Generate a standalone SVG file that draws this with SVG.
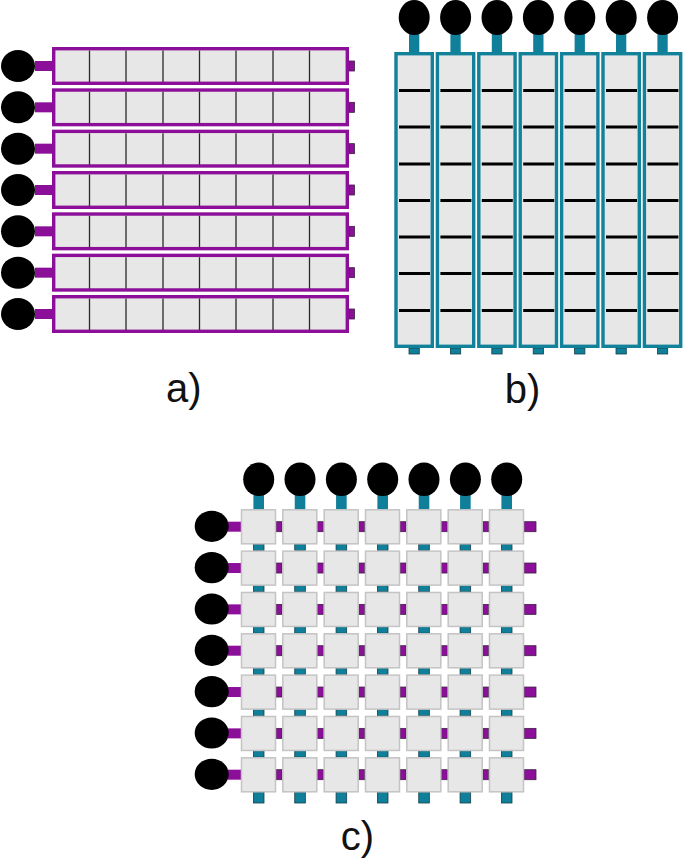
<svg xmlns="http://www.w3.org/2000/svg" xmlns:xlink="http://www.w3.org/1999/xlink" width="685" height="861" viewBox="0 0 685 861">
<style>
.e{fill:#000}
.pf{fill:#e7e7e7;stroke:#8c0f9a;stroke-width:3.4}
.tf{fill:#e7e7e7;stroke:#12829b;stroke-width:3.4}
.s{fill:#e7e7e7;stroke:#c4c4c4;stroke-width:1.5}
.p{fill:#8c0f9a}
.t{fill:#0f7f9a}
.pb{fill:#8c0f9a;stroke:#3a2440;stroke-width:.8}
.tb{fill:#0f7f9a;stroke:#14404c;stroke-width:.8}
.v{stroke:#2a2a2a;stroke-width:1.3;fill:none}
.h{stroke:#000;stroke-width:3;fill:none}
text{font-family:"Liberation Sans",Arial,sans-serif;font-size:40px;fill:#111}
</style>
<defs>
<g id="rowa">
<rect class="pf" x="53.7" y="48.7" width="293.6" height="34.6"/>
<path class="v" d="M89.5 50.5V82M126 50.5V82M163 50.5V82M199.5 50.5V82M236 50.5V82M273 50.5V82M309.5 50.5V82"/>
</g>
<g id="cola">
<rect class="tf" x="396" y="53.7" width="36.3" height="292.6"/>
<path class="h" d="M399 90.500H430M399 127H430M399 164H430M399 200.500H430M399 237H430M399 273.500H430M399 310.500H430"/>
</g>
<g id="hc">
<rect class="p" x="35" y="61" width="18" height="10"/>
<rect class="pb" x="349" y="61" width="5.500" height="10"/>
</g>
<g id="vc">
<rect class="t" x="409" y="34" width="10.3" height="18"/>
<rect class="tb" x="409" y="348" width="10.3" height="6"/>
</g>
<g id="hcc">
<rect class="p" x="228" y="521.700" width="13" height="10"/>
<rect class="pb" x="276" y="521.700" width="6" height="10"/>
<rect class="pb" x="317.300" y="521.700" width="6" height="10"/>
<rect class="pb" x="358.700" y="521.700" width="6" height="10"/>
<rect class="pb" x="400" y="521.700" width="6" height="10"/>
<rect class="pb" x="441.300" y="521.700" width="6" height="10"/>
<rect class="pb" x="482.700" y="521.700" width="6" height="10"/>
<rect class="pb" x="524" y="521.700" width="12" height="10"/>
</g>
<g id="vcc">
<rect class="t" x="253.400" y="495" width="10.6" height="14.500"/>
<rect class="tb" x="253.400" y="544" width="10.6" height="6.500"/>
<rect class="tb" x="253.400" y="585.300" width="10.6" height="6.500"/>
<rect class="tb" x="253.400" y="626.700" width="10.6" height="6.500"/>
<rect class="tb" x="253.400" y="668" width="10.6" height="6.500"/>
<rect class="tb" x="253.400" y="709.300" width="10.6" height="6.500"/>
<rect class="tb" x="253.400" y="750.700" width="10.6" height="6.500"/>
<rect class="tb" x="253.400" y="792" width="10.6" height="11"/>
</g>
<g id="srow">
<rect class="s" x="241.500" y="509.800" width="34" height="34"/>
<rect class="s" x="282.800" y="509.800" width="34" height="34"/>
<rect class="s" x="324.200" y="509.800" width="34" height="34"/>
<rect class="s" x="365.500" y="509.800" width="34" height="34"/>
<rect class="s" x="406.800" y="509.800" width="34" height="34"/>
<rect class="s" x="448.200" y="509.800" width="34" height="34"/>
<rect class="s" x="489.500" y="509.800" width="34" height="34"/>
</g>
</defs>
<g id="connectors">
<use xlink:href="#hc"/><use xlink:href="#hc" y="41.33"/><use xlink:href="#hc" y="82.67"/><use xlink:href="#hc" y="124"/><use xlink:href="#hc" y="165.33"/><use xlink:href="#hc" y="206.67"/><use xlink:href="#hc" y="248"/>
<use xlink:href="#vc"/><use xlink:href="#vc" x="41.4"/><use xlink:href="#vc" x="82.8"/><use xlink:href="#vc" x="124.2"/><use xlink:href="#vc" x="165.6"/><use xlink:href="#vc" x="207"/><use xlink:href="#vc" x="248.400"/>
<use xlink:href="#vcc"/><use xlink:href="#vcc" x="41.33"/><use xlink:href="#vcc" x="82.67"/><use xlink:href="#vcc" x="124"/><use xlink:href="#vcc" x="165.33"/><use xlink:href="#vcc" x="206.67"/><use xlink:href="#vcc" x="248"/>
<use xlink:href="#hcc"/><use xlink:href="#hcc" y="41.33"/><use xlink:href="#hcc" y="82.67"/><use xlink:href="#hcc" y="124"/><use xlink:href="#hcc" y="165.33"/><use xlink:href="#hcc" y="206.67"/><use xlink:href="#hcc" y="248"/>
</g>
<g id="panel-a">
<g id="a-row1"><ellipse class="e" cx="18" cy="66" rx="17" ry="16"/><use xlink:href="#rowa"/></g>
<g id="a-row2"><ellipse class="e" cx="18" cy="107.330" rx="17" ry="16"/><use xlink:href="#rowa" y="41.33"/></g>
<g id="a-row3"><ellipse class="e" cx="18" cy="148.670" rx="17" ry="16"/><use xlink:href="#rowa" y="82.67"/></g>
<g id="a-row4"><ellipse class="e" cx="18" cy="190" rx="17" ry="16"/><use xlink:href="#rowa" y="124"/></g>
<g id="a-row5"><ellipse class="e" cx="18" cy="231.330" rx="17" ry="16"/><use xlink:href="#rowa" y="165.33"/></g>
<g id="a-row6"><ellipse class="e" cx="18" cy="272.670" rx="17" ry="16"/><use xlink:href="#rowa" y="206.67"/></g>
<g id="a-row7"><ellipse class="e" cx="18" cy="314" rx="17" ry="16"/><use xlink:href="#rowa" y="248"/></g>
</g>
<g id="panel-b">
<g id="b-col1"><ellipse class="e" cx="414.200" cy="17.500" rx="15.500" ry="17.500"/><use xlink:href="#cola"/></g>
<g id="b-col2"><ellipse class="e" cx="455.600" cy="17.500" rx="15.500" ry="17.500"/><use xlink:href="#cola" x="41.4"/></g>
<g id="b-col3"><ellipse class="e" cx="497" cy="17.500" rx="15.500" ry="17.500"/><use xlink:href="#cola" x="82.8"/></g>
<g id="b-col4"><ellipse class="e" cx="538.400" cy="17.500" rx="15.500" ry="17.500"/><use xlink:href="#cola" x="124.2"/></g>
<g id="b-col5"><ellipse class="e" cx="579.800" cy="17.500" rx="15.500" ry="17.500"/><use xlink:href="#cola" x="165.6"/></g>
<g id="b-col6"><ellipse class="e" cx="621.200" cy="17.500" rx="15.500" ry="17.500"/><use xlink:href="#cola" x="207"/></g>
<g id="b-col7"><ellipse class="e" cx="662.600" cy="17.500" rx="15.500" ry="17.500"/><use xlink:href="#cola" x="248.4"/></g>
</g>
<g id="panel-c">
<g id="c-top1"><ellipse class="e" cx="258.700" cy="479.300" rx="15.500" ry="16.800"/></g>
<g id="c-top2"><ellipse class="e" cx="300" cy="479.300" rx="15.500" ry="16.800"/></g>
<g id="c-top3"><ellipse class="e" cx="341.400" cy="479.300" rx="15.500" ry="16.800"/></g>
<g id="c-top4"><ellipse class="e" cx="382.700" cy="479.300" rx="15.500" ry="16.800"/></g>
<g id="c-top5"><ellipse class="e" cx="424" cy="479.300" rx="15.500" ry="16.800"/></g>
<g id="c-top6"><ellipse class="e" cx="465.400" cy="479.300" rx="15.500" ry="16.800"/></g>
<g id="c-top7"><ellipse class="e" cx="506.700" cy="479.300" rx="15.500" ry="16.800"/></g>
<g id="c-left1"><ellipse class="e" cx="211.700" cy="526.300" rx="17" ry="15.600"/></g>
<g id="c-left2"><ellipse class="e" cx="211.700" cy="567.600" rx="17" ry="15.600"/></g>
<g id="c-left3"><ellipse class="e" cx="211.700" cy="609" rx="17" ry="15.600"/></g>
<g id="c-left4"><ellipse class="e" cx="211.700" cy="650.300" rx="17" ry="15.600"/></g>
<g id="c-left5"><ellipse class="e" cx="211.700" cy="691.600" rx="17" ry="15.600"/></g>
<g id="c-left6"><ellipse class="e" cx="211.700" cy="733" rx="17" ry="15.600"/></g>
<g id="c-left7"><ellipse class="e" cx="211.700" cy="774.300" rx="17" ry="15.600"/></g>
<g id="c-row1"><use xlink:href="#srow"/></g>
<g id="c-row2"><use xlink:href="#srow" y="41.33"/></g>
<g id="c-row3"><use xlink:href="#srow" y="82.67"/></g>
<g id="c-row4"><use xlink:href="#srow" y="124"/></g>
<g id="c-row5"><use xlink:href="#srow" y="165.33"/></g>
<g id="c-row6"><use xlink:href="#srow" y="206.67"/></g>
<g id="c-row7"><use xlink:href="#srow" y="248"/></g>
</g>
<text x="166" y="402">a)</text>
<text x="504.700" y="402.500">b)</text>
<text x="340.700" y="849.500">c)</text>
</svg>
